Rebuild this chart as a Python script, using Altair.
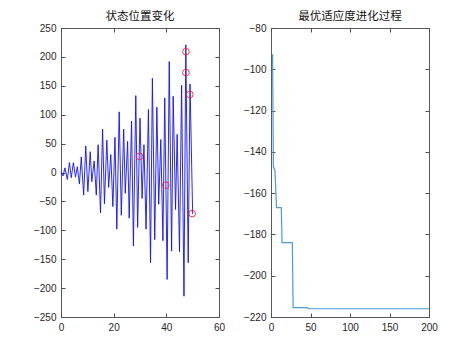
import altair as alt
import pandas as pd

# ---- left panel: state position over time (peaks / troughs)
start_x = [0.0]
start_y = [0.0]
trough_x = [0.76, 2.4, 3.9, 5.5, 7.0, 8.6, 10.2, 11.7, 13.4, 15.0, 16.5, 18.1, 19.7, 21.2,
            22.9, 24.4, 25.9, 27.5, 29.1, 30.8, 32.3, 34.0, 35.6, 37.1, 38.7, 40.3, 42.0,
            43.5, 45.0, 46.7, 48.3]
trough_y = [-6, -12, -9, -8, -20, -39, -33, -16, -39, -70, -54, -26, -59, -98,
            -74, -36, -79, -127, -95, -45, -98, -156, -116, -55, -118, -185, -136,
            -64, -137, -214, -156]
peak_x = [1.5, 3.2, 4.7, 6.2, 7.7, 9.4, 11.1, 12.6, 14.1, 15.8, 17.4, 18.9, 20.5, 22.1,
          23.8, 25.3, 26.8, 28.4, 30.0, 31.5, 33.2, 34.7, 36.4, 37.9, 39.4, 41.1, 42.6,
          44.1, 45.8, 47.4, 49.0]
peak_y = [8, 17, 17, 10, 27, 46, 36, 20, 48, 75, 56, 31, 61, 105,
          75, 54, 89, 133, 94, 48, 109, 163, 113, 57, 129, 192, 132,
          66, 151, 221, 153]
end_x = [50.0]
end_y = [-72.0]

marker_x = [29.8, 39.8, 47.45, 47.45, 48.9, 49.8]
marker_y = [28, -22, 209, 173, 135, -71]

# ---- right panel: best fitness per iteration
fit_x = [1, 2, 3, 5, 7, 13, 14, 27, 28, 46, 47, 200]
fit_y = [-93, -93, -147, -149, -167, -167, -184, -184, -215.5, -215.5, -216, -216]

left_title = "状态位置变化"
right_title = "最优适应度进化过程"

# build tables
xs = list(start_x)
ys = list(start_y)
for tx, ty, px, py in zip(trough_x, trough_y, peak_x, peak_y):
    xs += [tx, px]
    ys += [ty, py]
xs += end_x
ys += end_y
df_left = pd.DataFrame({"x": xs, "y": ys, "i": list(range(len(xs)))})
df_mark = pd.DataFrame({"x": marker_x, "y": marker_y})
df_fit = pd.DataFrame({"x": fit_x, "y": fit_y})

W, H = 158, 289
TICK = "#4d4d4d"


def panel(line_layer, x_dom, x_vals, y_dom, y_vals, title, extra=None):
    xs_ = alt.Scale(domain=x_dom, nice=False, zero=False)
    ys_ = alt.Scale(domain=y_dom, nice=False, zero=False)
    main = line_layer.encode(
        x=alt.X("x:Q", scale=xs_, title=None,
                axis=alt.Axis(values=x_vals, orient="bottom", format="d")),
        y=alt.Y("y:Q", scale=ys_, title=None,
                axis=alt.Axis(values=y_vals, orient="left", format="d")),
    )
    ghost = line_layer.mark_point(opacity=0).encode(
        x=alt.X("x:Q", scale=xs_, title=None,
                axis=alt.Axis(values=x_vals, orient="top", labels=False)),
        y=alt.Y("y:Q", scale=ys_, title=None,
                axis=alt.Axis(values=y_vals, orient="right", labels=False)),
    )
    layers = [ghost, main]
    if extra is not None:
        layers.append(extra.encode(
            x=alt.X("x:Q", scale=xs_, title=None, axis=None),
            y=alt.Y("y:Q", scale=ys_, title=None, axis=None)))
    return alt.layer(*layers).resolve_axis(x="independent", y="independent").properties(
        width=W, height=H, title=alt.TitleParams(title))


left_line = alt.Chart(df_left).mark_line(color="#1010ff", strokeWidth=0.9).encode(
    order="i:Q")
left_marks = alt.Chart(df_mark).mark_point(
    shape="circle", filled=False, color="#ff2020", size=45, strokeWidth=0.9, opacity=1)
left = panel(left_line, [0, 60], [0, 20, 40, 60], [-250, 250],
             list(range(-250, 251, 50)), left_title, extra=left_marks)

right_line = alt.Chart(df_fit).mark_line(color="#4a9bd6", strokeWidth=1.2)
right = panel(right_line, [0, 200], [0, 50, 100, 150, 200], [-220, -80],
              list(range(-220, -79, 20)), right_title)

chart = alt.hconcat(left, right, spacing=16).properties(
    padding={"left": 32, "top": 10, "right": 5, "bottom": 5},
    background="white"
).configure_view(
    stroke="#5a5a5a", strokeWidth=1
).configure_axis(
    domain=False, grid=False, ticks=True, tickColor=TICK, tickSize=4, offset=-4,
    labelFont="Liberation Sans", labelFontSize=10, labelColor="#262626",
    labelPadding=5, labelFlush=False, labelOverlap=False
).configure_title(
    font="Noto Sans CJK SC", fontSize=11.5, fontWeight="normal", color="#111111",
    offset=1, anchor="middle"
)

chart.save("out.html", embed_options={"renderer": "svg", "actions": False})
